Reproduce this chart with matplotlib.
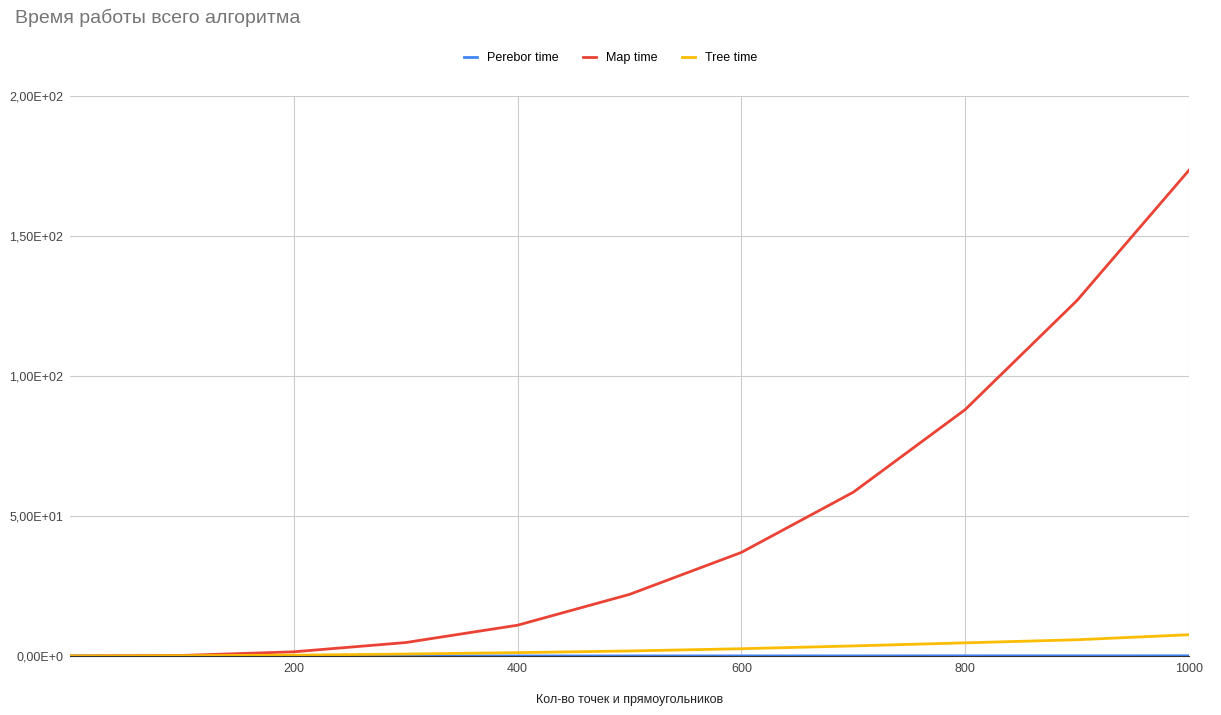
import matplotlib
matplotlib.use("Agg")
import matplotlib.pyplot as plt
from matplotlib.ticker import FuncFormatter

plt.rcParams['font.family'] = ['Liberation Sans', 'DejaVu Sans']

x = [1, 100, 200, 300, 400, 500, 600, 700, 800, 900, 1000]
perebor = [0, 0.001, 0.005, 0.01, 0.02, 0.03, 0.04, 0.05, 0.06, 0.07, 0.08]
map_t = [0, 0.2, 1.5, 4.8, 11, 22, 37, 58.5, 88, 127, 173.5]
tree_t = [0, 0.1, 0.3, 0.7, 1.2, 1.8, 2.6, 3.6, 4.7, 5.8, 7.6]
xticks = [200, 400, 600, 800, 1000]
yticks = [0, 50, 100, 150, 200]
ylabels = ["0,00E+0", "5,00E+01", "1,00E+02", "1,50E+02", "2,00E+02"]

fig = plt.figure(figsize=(12.21, 7.15), dpi=100)
ax = fig.add_axes([70/1221, 59/715, 1119/1221, 560/715])
ax.plot(x, perebor, color="#4285f4", lw=2, label="Perebor time")
ax.plot(x, map_t, color="#ea4335", lw=2, label="Map time")
ax.plot(x, tree_t, color="#fbbc04", lw=2, label="Tree time")
ax.set_xlim(0, 1000)
ax.set_ylim(0, 200)
ax.set_xticks(xticks)
ax.set_yticks(yticks)
ax.set_yticklabels(ylabels)
ax.grid(True, color="#cccccc", lw=0.8)
for s in ["top", "right", "left"]:
    ax.spines[s].set_visible(False)
ax.spines["bottom"].set_color("#333333")
ax.tick_params(length=0, labelsize=9, colors="#444444", pad=5)
ax.set_xlabel("Кол-во точек и прямоугольников", fontsize=9, color="#222222", labelpad=14)
fig.text(15/1221, 1-18/715, "Время работы всего алгоритма", fontsize=14, color="#757575", va="center")
fig.legend(loc="center", bbox_to_anchor=(0.5, 1-58/715), ncol=3, frameon=False, fontsize=9, handlelength=1, handleheight=0.3, columnspacing=2)
fig.savefig("out.png", dpi=100)
